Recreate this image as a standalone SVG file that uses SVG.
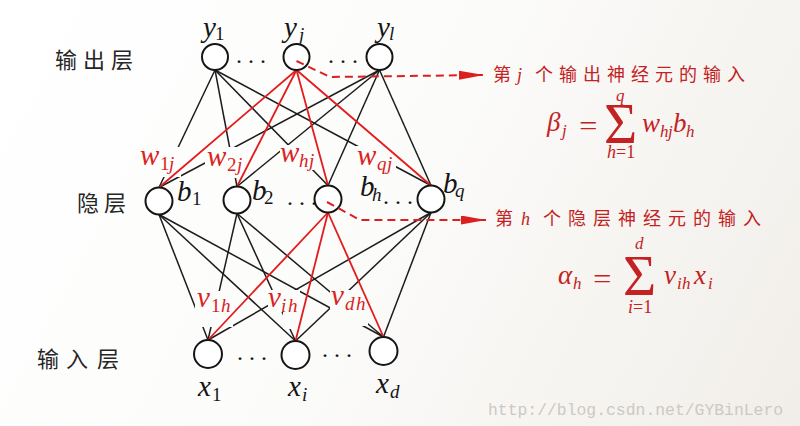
<svg xmlns="http://www.w3.org/2000/svg" width="800" height="426" viewBox="0 0 800 426">
<defs>
<linearGradient id="bg" gradientUnits="userSpaceOnUse" x1="0" y1="0" x2="800" y2="426">
<stop offset="0" stop-color="#ffffff"/>
<stop offset="0.45" stop-color="#fcfcfb"/>
<stop offset="1" stop-color="#f1eee9"/>
</linearGradient>
<marker id="arr" markerUnits="userSpaceOnUse" markerWidth="26" markerHeight="10" refX="25" refY="4.5" orient="auto">
<path d="M0,0 L25,4.5 L0,9 Z" fill="#dc2020"/>
</marker>
<style>
.n circle { fill:#fff; stroke:#151515; stroke-width:2; }
.k line { stroke:#1c1c1c; stroke-width:1.5; }
.rl line { stroke:#e31b1b; stroke-width:1.8; }
.dash { fill:none; stroke:#dc2020; stroke-width:2; stroke-dasharray:8 5; }
.m { font-family:"Liberation Serif", serif; font-style:italic; font-size:29px; fill:#151515; }
.s { font-size:19px; }
.up { font-style:normal; }
.red { fill:#d92222; }
.dots { font-family:"Liberation Serif", serif; font-size:24px; fill:#151515; }
.cn { font-family:"Noto Sans CJK SC", sans-serif; font-size:22px; fill:#262626; }
.cr { font-family:"Noto Sans CJK SC", sans-serif; font-size:18px; fill:#c42222; }
.it { font-family:"Liberation Serif", serif; font-style:italic; }
.f { font-family:"Liberation Serif", serif; font-style:italic; font-size:27px; fill:#c42222; }
.fs { font-size:17px; }
.fl { font-size:18px; }
.sig { font-style:normal; font-size:57px; }
.wm { font-family:"Liberation Mono", monospace; font-size:16.4px; fill:#cdc8c3; }
.mask { fill:url(#bg); }
</style>
</defs>
<rect width="800" height="426" fill="url(#bg)"/>

<g id="layer-labels">
<text class="cn" y="68"><tspan x="55">输</tspan><tspan x="83">出</tspan><tspan x="111">层</tspan></text>
<text class="cn" y="211"><tspan x="77">隐</tspan><tspan x="104">层</tspan></text>
<text class="cn" y="367"><tspan x="37">输</tspan><tspan x="66">入</tspan><tspan x="97">层</tspan></text>
</g>

<g id="connectors">
<g class="k">
<line x1="215" y1="70" x2="159" y2="187.5"/>
<line x1="215" y1="70" x2="237" y2="186.5"/>
<line x1="215" y1="70" x2="328" y2="185.5"/>
<line x1="215" y1="70" x2="431" y2="185.5"/>
<line x1="379.5" y1="70" x2="159" y2="187.5"/>
<line x1="379.5" y1="70" x2="237" y2="186.5"/>
<line x1="379.5" y1="70" x2="328" y2="185.5"/>
<line x1="379.5" y1="70" x2="431" y2="185.5"/>
<line x1="159" y1="214.5" x2="208" y2="340"/>
<line x1="159" y1="214.5" x2="295.5" y2="341"/>
<line x1="159" y1="214.5" x2="383.5" y2="337"/>
<line x1="237" y1="213.5" x2="208" y2="340"/>
<line x1="237" y1="213.5" x2="295.5" y2="341"/>
<line x1="237" y1="213.5" x2="383.5" y2="337"/>
<line x1="431" y1="212.5" x2="208" y2="340"/>
<line x1="431" y1="212.5" x2="295.5" y2="341"/>
<line x1="431" y1="212.5" x2="383.5" y2="337"/>
</g>
<g id="label-masks">
<rect class="mask" x="138" y="147" width="43" height="30"/>
<rect class="mask" x="205" y="147" width="41" height="31"/>
<rect class="mask" x="280" y="145" width="34" height="25"/>
<rect class="mask" x="355" y="146" width="41" height="26"/>
<rect class="mask" x="195" y="291" width="38" height="36"/>
<rect class="mask" x="268" y="290" width="32" height="22"/>
<rect class="mask" x="283" y="311" width="17" height="18"/>
<rect class="mask" x="330" y="290" width="38" height="36"/>
</g>
<g class="rl">
<line x1="296.5" y1="70" x2="159" y2="187.5"/>
<line x1="296.5" y1="70" x2="237" y2="186.5"/>
<line x1="296.5" y1="70" x2="328" y2="185.5"/>
<line x1="296.5" y1="70" x2="431" y2="185.5"/>
<line x1="328" y1="212.5" x2="208" y2="340"/>
<line x1="328" y1="212.5" x2="295.5" y2="341"/>
<line x1="328" y1="212.5" x2="383.5" y2="337"/>
</g>
<g id="weight-labels" class="m red">
<text x="140" y="165">w<tspan class="s up" x="160" y="170">1</tspan><tspan class="s" x="169" y="170">j</tspan></text>
<text x="207" y="166">w<tspan class="s up" x="227" y="171">2</tspan><tspan class="s" x="237" y="171">j</tspan></text>
<text x="280" y="162">w<tspan class="s" x="299" y="167">h</tspan><tspan class="s" x="309" y="167">j</tspan></text>
<text x="357" y="165">w<tspan class="s" x="377" y="170">q</tspan><tspan class="s" x="387" y="170">j</tspan></text>
<text x="197" y="307">v<tspan class="s up" x="211" y="312">1</tspan><tspan class="s" x="221" y="312">h</tspan></text>
<text x="268" y="307">v<tspan class="s" x="281" y="312">i</tspan><tspan class="s" x="288" y="312">h</tspan></text>
<text x="331" y="305">v<tspan class="s" x="345" y="310">d</tspan><tspan class="s" x="356" y="310">h</tspan></text>
</g>
</g>

<g id="y1" class="n"><circle cx="215" cy="57" r="13"/><text class="m" x="203" y="37">y<tspan class="s up" x="215" y="40">1</tspan></text></g>
<g id="yj" class="n"><circle cx="296.5" cy="57" r="13"/><text class="m" x="284" y="37">y<tspan class="s" x="299" y="41">j</tspan></text></g>
<g id="yl" class="n"><circle cx="379.5" cy="57" r="13"/><text class="m" x="377" y="37">y<tspan class="s" x="389" y="40">l</tspan></text></g>
<g id="b1" class="n"><circle cx="159" cy="201" r="13.5"/><text class="m" x="177" y="201">b<tspan class="s up" x="192" y="205">1</tspan></text></g>
<g id="b2" class="n"><circle cx="237" cy="200" r="13.5"/><text class="m" x="252" y="200">b<tspan class="s up" x="264" y="204">2</tspan></text></g>
<g id="bh" class="n"><circle cx="328" cy="199" r="13.5"/><text class="m" x="360" y="196">b<tspan class="s" x="372" y="201">h</tspan></text></g>
<g id="bq" class="n"><circle cx="431" cy="199" r="13.5"/><text class="m" x="443" y="193">b<tspan class="s" x="455" y="197">q</tspan></text></g>
<g id="x1" class="n"><circle cx="208" cy="354" r="14"/><text class="m" x="198" y="396">x<tspan class="s up" x="212" y="401">1</tspan></text></g>
<g id="xi" class="n"><circle cx="295.5" cy="355" r="14"/><text class="m" x="288" y="396">x<tspan class="s" x="302" y="401">i</tspan></text></g>
<g id="xd" class="n"><circle cx="383.5" cy="351" r="14"/><text class="m" x="376" y="393">x<tspan class="s" x="390" y="398">d</tspan></text></g>

<g id="ellipses" class="dots">
<text x="236" y="63">. . .</text>
<text x="328" y="63">. . .</text>
<text x="287" y="205">. . .</text>
<text x="383" y="204">. . .</text>
<text x="237" y="360">. . .</text>
<text x="322" y="357">. . .</text>
</g>

<g id="annotation-arrows">
<path class="dash" d="M296.5,61 L330,77 L484,75" marker-end="url(#arr)"/>
<path class="dash" d="M327,202 L360,220 L486,220" marker-end="url(#arr)"/>
</g>

<g id="output-note">
<text class="cr" y="81"><tspan x="493">第</tspan><tspan class="it" x="517">j</tspan><tspan x="535 559 583 607 631 655 679 703 727">个输出神经元的输入</tspan></text>
<text class="f" x="547" y="131">β<tspan class="fs" x="562" y="136">j</tspan></text>
<text class="f up" x="577" y="135" textLength="22" lengthAdjust="spacingAndGlyphs">=</text>
<text class="f"><tspan class="sig" x="604" y="143">Σ</tspan><tspan class="fs" x="616" y="101">q</tspan><tspan class="fl" x="607" y="158">h</tspan><tspan class="fl up">=1</tspan></text>
<text class="f" x="642" y="132">w<tspan class="fs" x="660" y="137">h</tspan><tspan class="fs" x="668" y="137">j</tspan><tspan x="673" y="132">b</tspan><tspan class="fs" x="686" y="137">h</tspan></text>
</g>

<g id="hidden-note">
<text class="cr" y="225"><tspan x="495">第</tspan><tspan class="it" x="521">h</tspan><tspan x="543 568 593 618 643 668 693 718 743">个隐层神经元的输入</tspan></text>
<text class="f" x="558" y="284">α<tspan class="fs" x="573" y="289">h</tspan></text>
<text class="f up" x="591" y="288" textLength="22" lengthAdjust="spacingAndGlyphs">=</text>
<text class="f"><tspan class="sig" x="623" y="295">Σ</tspan><tspan class="fs" x="635" y="249">d</tspan><tspan class="fl" x="628" y="313">i</tspan><tspan class="fl up">=1</tspan></text>
<text class="f" x="664" y="284">v<tspan class="fs" x="677" y="289">i</tspan><tspan class="fs" x="682" y="289">h</tspan><tspan x="694" y="284">x</tspan><tspan class="fs" x="708" y="289">i</tspan></text>
</g>

<text class="wm" x="488" y="415">http://blog.csdn.net/GYBinLero</text>
</svg>
